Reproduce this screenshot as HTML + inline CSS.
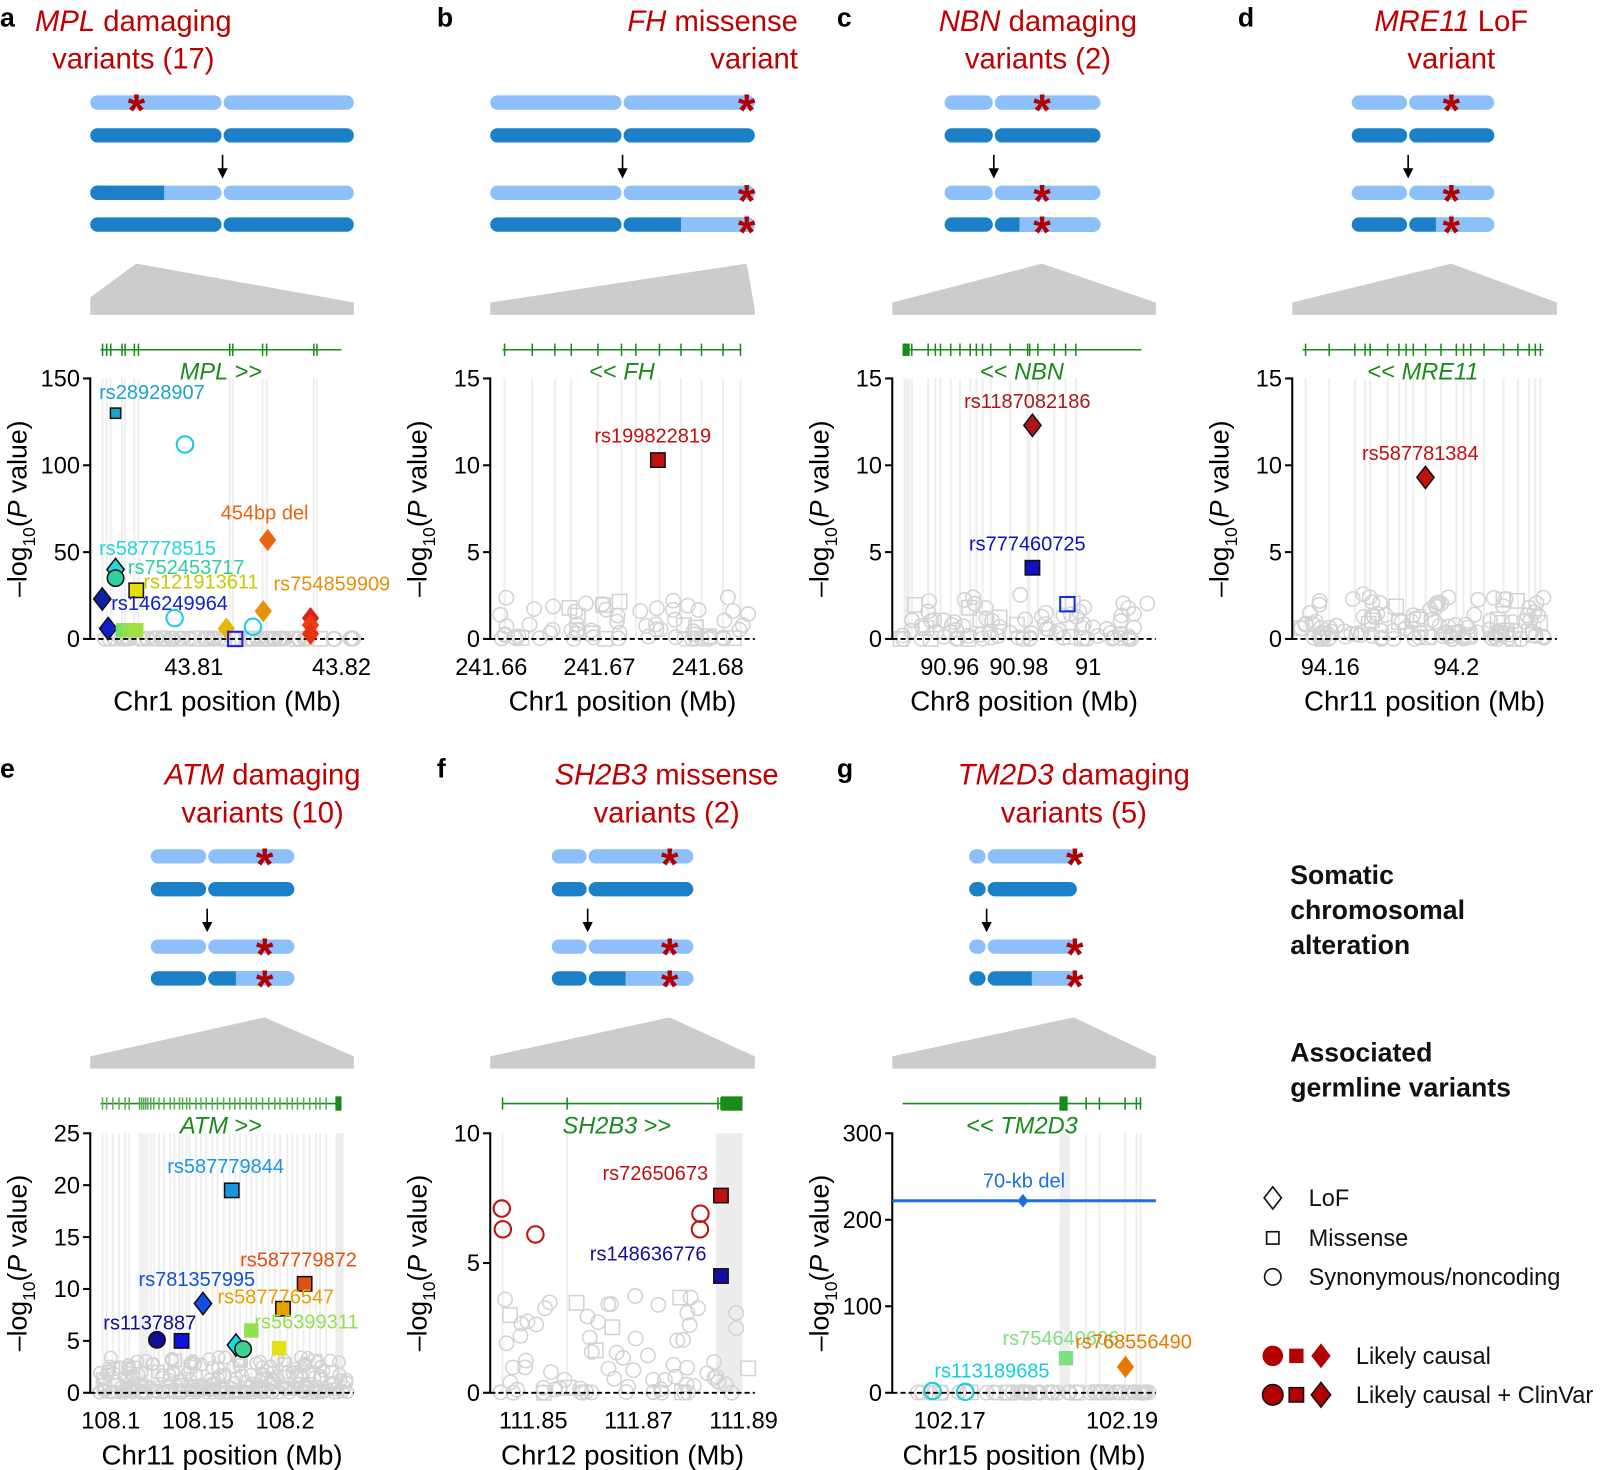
<!DOCTYPE html>
<html><head><meta charset="utf-8">
<style>
html,body{margin:0;padding:0;background:#fff;}
svg{display:block;font-family:"Liberation Sans",Arial,sans-serif;}
</style></head>
<body>
<svg id="fig" width="1604" height="1470" viewBox="0 0 1604 1470" xmlns="http://www.w3.org/2000/svg"><g id="root" transform="scale(1.0256)"></g></svg>
<script>
// ---------------- data ----------------
const panelIds = ['a','b','c','d','e','f','g'];
const xTickVals = {a:[43.81,43.82], b:[241.66,241.67,241.68], c:[90.96,90.98,91], d:[94.16,94.2], e:[108.1,108.15,108.2], f:[111.85,111.87,111.89], g:[102.17,102.19]};
const xTickLabels = {a:['43.81','43.82'], b:['241.66','241.67','241.68'], c:['90.96','90.98','91'], d:['94.16','94.2'], e:['108.1','108.15','108.2'], f:['111.85','111.87','111.89'], g:['102.17','102.19']};
const yTickVals = {a:[0,50,100,150], b:[0,5,10,15], c:[0,5,10,15], d:[0,5,10,15], e:[0,5,10,15,20,25], f:[0,5,10], g:[0,100,200,300]};
const yMax = {a:150,b:15,c:15,d:15,e:25,f:10,g:300};
const xTitles = {a:'Chr1 position (Mb)', b:'Chr1 position (Mb)', c:'Chr8 position (Mb)', d:'Chr11 position (Mb)', e:'Chr11 position (Mb)', f:'Chr12 position (Mb)', g:'Chr15 position (Mb)'};
const geneNames = {a:['','MPL',' >>'], b:['<< ','FH',''], c:['<< ','NBN',''], d:['<< ','MRE11',''], e:['','ATM',' >>'], f:['','SH2B3',' >>'], g:['<< ','TM2D3','']};

const varPos = {
 a:[43.8047,43.8094,43.8150,43.8047,43.8047,43.8061,43.8038,43.8147,43.8042,43.8179,43.8179,43.8179,43.8122,43.8087,43.8140,43.8052,43.8056,43.8061,43.8128],
 b:[241.6754],
 c:[90.9839,90.9839,90.9940],
 d:[94.1902],
 e:[108.1694,108.2112,108.1529,108.1988,108.1265,108.1406,108.1806,108.1965,108.1718,108.1759],
 f:[111.8440,111.8442,111.8504,111.8818,111.8817,111.8857,111.8857],
 g:[102.1785,102.1835,102.1904,102.1680,102.1718]
};
const varP = {
 a:[130,112,57,40,35,28,23,16,6,12,8,3,6,12,7,5,5,5,0],
 b:[10.3],
 c:[12.3,4.1,2],
 d:[9.3],
 e:[19.5,10.5,8.6,8.1,5.1,5,6,4.3,4.6,4.2],
 f:[7.1,6.3,6.1,6.9,6.3,7.6,4.5],
 g:[222,40,30,2,1]
};
const varShape = {
 a:['s','c','d','d','c','s','d','d','d','d','d','d','d','c','c','s','s','s','s'],
 b:['s'], c:['d','s','s'], d:['d'],
 e:['s','s','d','s','c','s','s','s','d','c'],
 f:['c','c','c','c','c','s','s'],
 g:['d','s','d','c','c']
};
const varColor = {
 a:['#1ba3d6','#19c8e6','#e8650f','#1fd8dc','#2dcfa0','#e5e000','#0f1fa8','#e8900a','#1020d0','#e51c1c','#e84010','#e83010','#e5b800','#19d0e8','#19d0e8','#74e060','#90e050','#a0e040','#2020e0'],
 b:['#c01010'], c:['#b01515','#1010c0','#1030d0'], d:['#c01010'],
 e:['#1a96e0','#e05010','#1050e0','#e8a000','#101090','#1010e0','#90e050','#e5e010','#10e0e0','#40d090'],
 f:['#c01010','#c01010','#c01010','#c01010','#c01010','#c01010','#1010a0'],
 g:['#1a70e0','#80e080','#e87800','#10d0e0','#10d0e0']
};
const varFilled = {
 a:[1,0,1,1,1,1,1,1,1,1,1,1,1,0,0,1,1,1,0],
 b:[1], c:[1,1,0], d:[1],
 e:[1,1,1,1,1,1,1,1,1,1],
 f:[0,0,0,0,0,1,1],
 g:[1,1,1,0,0]
};
const varLabel = {
 a:['rs28928907','','454bp del','rs587778515','rs752453717','rs121913611','','rs754859909','rs146249964','','','','','','','','','',''],
 b:['rs199822819'], c:['rs1187082186','rs777460725',''], d:['rs587781384'],
 e:['rs587779844','rs587779872','rs781357995','rs587776547','rs1137887','','rs56399311','','',''],
 f:['','','','','','rs72650673','rs148636776'],
 g:['70-kb del','rs754640606','rs768556490','rs113189685','']
};
const varLabelPos = {
 a:[[-16,-14,'start'],[0,0,'middle'],[-3,-20,'middle'],[-16,-14,'start'],[12,-4,'start'],[7,-2,'start'],[0,0,'start'],[10,-20,'start'],[3,-18,'start'],[0,0,'start'],[0,0,'start'],[0,0,'start'],[0,0,'start'],[0,0,'start'],[0,0,'start'],[0,0,'start'],[0,0,'start'],[0,0,'start'],[0,0,'start']],
 b:[[-5,-17,'middle']], c:[[-5,-17,'middle'],[-5,-17,'middle'],[0,0,'start']], d:[[-5,-17,'middle']],
 e:[[-6,-17,'middle'],[-6,-17,'middle'],[-6,-17,'middle'],[-7,-5,'middle'],[-7,-10,'middle'],[0,0,'start'],[3,-2,'start'],[0,0,'start'],[0,0,'start'],[0,0,'start']],
 f:[[0,0,'start'],[0,0,'start'],[0,0,'start'],[0,0,'start'],[0,0,'start'],[-64,-15,'middle'],[-71,-15,'middle']],
 g:[[1,-13,'middle'],[-5,-13,'middle'],[-49,-18,'start'],[58,-13,'middle'],[0,0,'start']]
};
const L = {
 a:{ax:88,right:355,y0:623,ytop:369,px:[189,333],row:0,chrom:[88,217,345],star:133,cut:160,apex:133,gene:[98,333],title:['MPL',' damaging','variants (17)'],tx:130,ta:'middle'},
 b:{ax:478,right:736,y0:623,ytop:369,px:[479,585,690],row:0,chrom:[478,607,736],star:728,cut:664,apex:728,gene:[490,723],title:['FH',' missense','variant'],tx:778,ta:'end'},
 c:{ax:870,right:1127,y0:623,ytop:369,px:[926,994,1061],row:0,chrom:[921,969,1073],star:1016,cut:994,apex:1016,gene:[880,1113],title:['NBN',' damaging','variants (2)'],tx:1012,ta:'middle'},
 d:{ax:1260,right:1518,y0:623,ytop:369,px:[1297,1420],row:0,chrom:[1318,1373,1457],star:1415,cut:1400,apex:1415,gene:[1270,1505],title:['MRE11',' LoF','variant'],tx:1415,ta:'middle'},
 e:{ax:88,right:345,y0:1358,ytop:1105,px:[108,193,278],row:1,chrom:[147,202,287],star:258,cut:230,apex:258,gene:[98,333],title:['ATM',' damaging','variants (10)'],tx:256,ta:'middle'},
 f:{ax:478,right:736,y0:1358,ytop:1105,px:[520,623,725],row:1,chrom:[538,573,676],star:653,cut:610,apex:653,gene:[490,723],title:['SH2B3',' missense','variants (2)'],tx:650,ta:'middle'},
 g:{ax:870,right:1127,y0:1358,ytop:1105,px:[926,1094],row:1,chrom:[945,962,1050],star:1048,cut:1006,apex:1047,gene:[880,1113],title:['TM2D3',' damaging','variants (5)'],tx:1047,ta:'middle'}
};
const exons = {
 a:[100,104,108,119,122,131,135,224,227,256,260,306,309],
 b:[492,519,541,557,583,606,620,643,664,684,705,722],
 c:[882,884,886,889,905,912,917,927,936,946,952,958,966,985,1002,1004,1012,1028,1039,1049],
 d:[1273,1296,1321,1331,1336,1353,1364,1371,1378,1390,1405,1420,1427,1434,1447,1466,1480,1491,1497,1502],
 e:[100,104,110,116,122,126,136,138,140,142,144,147,150,155,160,166,170,175,178,182,185,191,196,201,207,212,218,224,229,234,240,245,250,256,262,268,273,280,285,290,296,302,308,312,318,330,332],
 f:[490,553,700,703,706,710,714,719,722],
 g:[1036,1038,1040,1059,1072,1097,1108,1112]
};

// ---------------- drawing ----------------
const NS='http://www.w3.org/2000/svg';
const root=document.getElementById('root');
function mk(tag,attrs,parent){const e=document.createElementNS(NS,tag);for(const k in attrs)e.setAttribute(k,attrs[k]);(parent||root).appendChild(e);return e;}
function xScale(p,v){const l=L[p],t=xTickVals[p];const k=(l.px[l.px.length-1]-l.px[0])/(t[t.length-1]-t[0]);return l.px[0]+(v-t[0])*k;}
function yScale(p,v){const l=L[p];return l.y0-(v/yMax[p])*(l.y0-l.ytop);}
let seed=12345;function rnd(){seed=(seed*1103515245+12345)%2147483648;return seed/2147483648;}

function marker(g,shape,cx,cy,r,fill,stroke,sw){
 let m;
 if(shape==='c') m=mk('circle',{cx:cx,cy:cy,r:r,fill:fill,stroke:stroke,'stroke-width':sw},g);
 else if(shape==='s') m=mk('rect',{x:cx-r,y:cy-r,width:2*r,height:2*r,fill:fill,stroke:stroke,'stroke-width':sw},g);
 else m=mk('polygon',{points:`${cx},${cy-r*1.35} ${cx+r*1.05},${cy} ${cx},${cy+r*1.35} ${cx-r*1.05},${cy}`,fill:fill,stroke:stroke,'stroke-width':sw},g);
 return m;
}
const letterPos={a:[0,26],b:[426,26],c:[816,26],d:[1207,26],e:[0,758],f:[426,758],g:[816,758]};

panelIds.forEach(p=>{
 const l=L[p];const oy=l.row*735;
 const g=mk('g',{});
 
 
 const lt=mk('text',{x:letterPos[p][0],y:letterPos[p][1],'font-size':26,'font-weight':'bold',fill:'#000'},g);
 lt.textContent=p;
 
 
 const t1=mk('text',{x:l.tx,y:30+oy,'font-size':28.5,fill:'#c00000','text-anchor':l.ta},g);
 const ts=mk('tspan',{'font-style':'italic'},t1);ts.textContent=l.title[0];
 const ts2=mk('tspan',{},t1);ts2.textContent=l.title[1];
 
 
 const t2=mk('text',{x:l.tx,y:67+oy,'font-size':28.5,fill:'#c00000','text-anchor':l.ta},g);
 t2.textContent=l.title[2];
 
 
 const [c0,cm,c1]=l.chrom;const LB='#8dbffb',DB='#1b80c8';
 const rows=[93,125,181,212];
 rows.forEach((ry,i)=>{
  const y=ry+oy;
  const base=(i===1||i===3)?DB:LB;
  const cg=mk('g',{},g);
  
  
  mk('rect',{x:c0,y:y,width:cm-c0-1,height:14,rx:7,fill:base},cg);
  mk('rect',{x:cm+1,y:y,width:c1-cm-1,height:14,rx:7,fill:base},cg);
  if(i===2&&p==='a'){mk('rect',{x:c0,y:y,width:20,height:14,rx:7,fill:DB},cg);mk('rect',{x:c0+8,y:y,width:l.cut-c0-8,height:14,fill:DB},cg);}
  if(i===3&&p!=='a'){
   const cs=Math.max(l.cut,cm+1);
   mk('rect',{x:cs,y:y,width:c1-cs-7,height:14,fill:LB},cg);
   mk('rect',{x:c1-14,y:y,width:14,height:14,rx:7,fill:LB},cg);
   if(l.cut<cm){mk('rect',{x:l.cut,y:y,width:cm-1-l.cut-7,height:14,fill:LB},cg);mk('rect',{x:cm-15,y:y,width:14,height:14,rx:7,fill:LB},cg);}
  }
  if(i===0||(p!=='a'&&i>=2)){
   const st=mk('text',{x:l.star,y:y+30,'font-size':44,'font-weight':'bold',fill:'#b00000','text-anchor':'middle'},cg);
   st.textContent='*';
  }
 });
 const ar=mk('g',{},g);
 
 
 mk('line',{x1:cm,y1:151+oy,x2:cm,y2:166+oy,stroke:'#000','stroke-width':1.6},ar);
 mk('polygon',{points:`${cm-5},${164+oy} ${cm+5},${164+oy} ${cm},${174+oy}`,fill:'#000'},ar);
 const tb=307+oy, apy=257+oy;
 const right=p==='a'||p==='e'?345:l.right;
 const tz=mk('polygon',{points:`${l.ax},${tb} ${l.ax},${tb-12} ${l.apex},${apy} ${right},${tb-12} ${right},${tb}`,fill:'#cccccc'},g);
 if(p==='a') tz.setAttribute('points',`88,${tb} 88,${tb-17} 133,${apy} 345,${tb-12} 345,${tb}`);
 if(p==='b') tz.setAttribute('points',`478,${tb} 478,${tb-12} 728,${apy} 736,${tb-5} 736,${tb}`);
 
 
 const gt=mk('g',{},g);
 
 
 const gy=341+oy;
 const gcol=p==='e'?'#5cad5c':'#1a8a1a';
 mk('line',{x1:l.gene[0],y1:gy,x2:l.gene[1],y2:gy,stroke:'#1a8a1a','stroke-width':1.5},gt);
 exons[p].forEach(ex=>{mk('rect',{x:ex-0.75,y:gy-6,width:1.5,height:12,fill:gcol},gt);
  mk('rect',{x:ex-1,y:l.ytop,width:2,height:l.y0-l.ytop,fill:'#efefef'},g);});
 if(p==='g'){mk('rect',{x:1033,y:gy-7,width:8,height:14,fill:'#1a8a1a'},gt);mk('rect',{x:1033,y:l.ytop,width:10,height:l.y0-l.ytop,fill:'#ededed'},g);}
 if(p==='e'){mk('rect',{x:327,y:gy-7,width:6,height:14,fill:'#1a8a1a'},gt);mk('rect',{x:327,y:l.ytop,width:8,height:l.y0-l.ytop,fill:'#ededed'},g);}
 if(p==='f'){mk('rect',{x:703,y:gy-7,width:21,height:14,fill:'#1a8a1a'},gt);mk('rect',{x:698,y:l.ytop,width:26,height:l.y0-l.ytop,fill:'#ededed'},g);}
 if(p==='c'){mk('rect',{x:880,y:gy-6,width:7,height:12,fill:'#1a8a1a'},gt);}
 const gn=mk('text',{x:(l.gene[0]+l.gene[1])/2-(p==='f'?5:0),y:370+oy,'font-size':23,fill:'#1a8a1a','text-anchor':'middle'},g);
 const g1=mk('tspan',{},gn);g1.textContent=geneNames[p][0];
 const g2=mk('tspan',{'font-style':'italic'},gn);g2.textContent=geneNames[p][1];
 const g3=mk('tspan',{},gn);g3.textContent=geneNames[p][2];
 
 
 const bg=mk('g',{},g);
 
 
 const n={a:90,b:70,c:90,d:130,e:260,f:80,g:60}[p];
 const lo=l.ax+8, hi=l.right-6;
 for(let i=0;i<n;i++){
  const x=lo+rnd()*(hi-lo);
  let v=Math.pow(rnd(),2.2)*({a:3,b:2.6,c:2.6,d:2.6,e:3.5,f:3.8,g:3}[p]);
  if(p==='a'||p==='g') v=rnd()*0.1*yMax[p]/50;
  const y=yScale(p,v);
  const sh=rnd()<0.12?'s':'c';
  marker(bg,sh,x,y,p==='e'?6:7,'none','#d3d3d3',1.5);
 }
 const ax=mk('g',{},g);
 
 
 mk('line',{x1:l.ax,y1:l.ytop-1,x2:l.ax,y2:l.y0+1,stroke:'#000','stroke-width':2},ax);
 yTickVals[p].forEach(v=>{const y=yScale(p,v);mk('line',{x1:l.ax-7,y1:y,x2:l.ax,y2:y,stroke:'#000','stroke-width':2},ax);
  const tx=mk('text',{x:l.ax-10,y:y+8,'font-size':23,'text-anchor':'end',fill:'#000'},ax);tx.textContent=v;});
 const yt=mk('text',{x:0,y:0,'font-size':26,'text-anchor':'middle',fill:'#000',transform:`translate(${l.ax-62},${(l.y0+l.ytop)/2}) rotate(-90)`},g);
 const y1=mk('tspan',{},yt);y1.textContent='\u2013log';
 const y2=mk('tspan',{'font-size':17,dy:8},yt);y2.textContent='10';
 const y3=mk('tspan',{dy:-8},yt);y3.textContent='(';
 const y4=mk('tspan',{'font-style':'italic'},yt);y4.textContent='P';
 const y5=mk('tspan',{},yt);y5.textContent=' value)';
 
 
 const xa=mk('g',{},g);
 
 
 mk('line',{x1:l.ax,y1:l.y0,x2:l.right,y2:l.y0,stroke:'#000','stroke-width':1.8,'stroke-dasharray':'5,3'},xa);
 xTickVals[p].forEach((v,i)=>{const tx=mk('text',{x:xScale(p,v),y:l.y0+35,'font-size':23,'text-anchor':'middle',fill:'#000'},xa);tx.textContent=xTickLabels[p][i];});
 const xt=mk('text',{x:(l.ax+l.right)/2,y:l.y0+70,'font-size':27,'text-anchor':'middle',fill:'#000'},g);
 xt.textContent=xTitles[p];
 
 
 const hv=mk('g',{},g);
 
 
 if(p==='g'){const yl=yScale(p,varP.g[0]);const ln=mk('line',{x1:l.ax,y1:yl,x2:l.right,y2:yl,stroke:'#1a70e0','stroke-width':3},hv);
  
  }
 varPos[p].forEach((pos,i)=>{
  const x=xScale(p,pos), y=yScale(p,varP[p][i]);
  const sh=varShape[p][i], col=varColor[p][i], f=varFilled[p][i];
  let r=sh==='s'?7:8; if(p==='a'&&i===0) r=5; if(p==='g'&&i===0) r=5;
  const m=marker(hv,sh,x,y,r,f?col:'none',f?(p==='g'?'none':'#111'):col,f?1.5:2);
  if(p==='a'&&(i===2||i===7||i>=9&&i<=12)) m.setAttribute('stroke','none');
  if(p==='a'&&i>=15&&i<=17) m.setAttribute('stroke','none');
  if(p==='e'&&(i===6||i===7)) m.setAttribute('stroke','none');
  
  
  const lb=varLabel[p][i];
  if(lb){const lp=varLabelPos[p][i];
   const tx=mk('text',{x:x+lp[0],y:y+lp[1],'font-size':19.5,'text-anchor':lp[2],fill:(col==='#e5e000'||col==='#e5e010')?'#c8c800':col},hv);
   tx.textContent=lb;
   
   }
 });
});

const side=[['Somatic',862],['chromosomal',896],['alteration',930]];
side.forEach(s=>{const t=mk('text',{x:1258,y:s[1],'font-size':26,'font-weight':'600',fill:'#111'});t.textContent=s[0];
 
 });
[['Associated',1035],['germline variants',1069]].forEach(s=>{const t=mk('text',{x:1258,y:s[1],'font-size':26,'font-weight':'600',fill:'#111'});t.textContent=s[0];
 
 });
const leg=mk('g',{});


const legItems=[['d','LoF',1168],['s','Missense',1207],['c','Synonymous/noncoding',1245]];
legItems.forEach(it=>{const gi=mk('g',{},leg);
 
 
 marker(gi,it[0],1241,it[2],it[0]==='s'?6:8,'none','#111',1.6);
 const t=mk('text',{x:1276,y:it[2]+8,'font-size':23,fill:'#111'},gi);t.textContent=it[1];});
[['Likely causal',1322,'none'],['Likely causal + ClinVar',1360,'#111']].forEach(it=>{const gi=mk('g',{},leg);
 
 
 marker(gi,'c',1241,it[1],10,'#b30000',it[2],1.5);
 marker(gi,'s',1264,it[1],7,'#b30000',it[2],1.5);
 marker(gi,'d',1288,it[1],9,'#b30000',it[2],1.5);
 const t=mk('text',{x:1322,y:it[1]+8,'font-size':23,fill:'#111'},gi);t.textContent=it[0];});
</script>
</body></html>
